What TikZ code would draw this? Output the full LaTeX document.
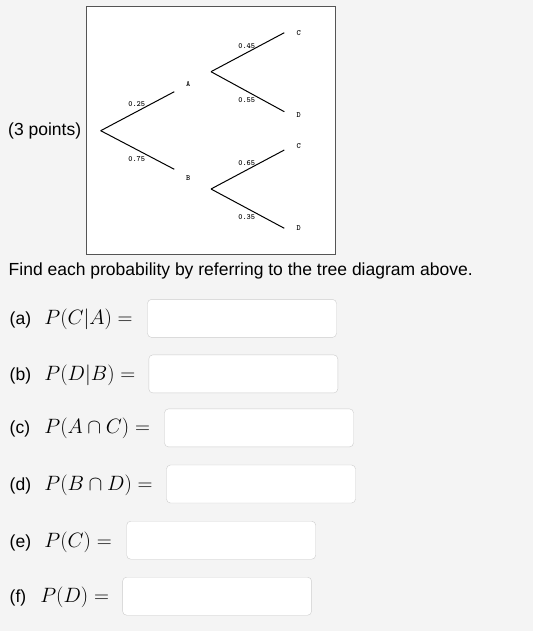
\documentclass[tikz,border=0pt]{standalone}
\usepackage{amsmath,amssymb}
\usepackage{xcolor}
\usepackage{fontspec}
\setmainfont{Liberation Sans}
\usetikzlibrary{positioning}

\definecolor{pagegray}{HTML}{F4F4F4}
\definecolor{framegray}{HTML}{555555}
\definecolor{boxgray}{HTML}{CCCCCC}

\begin{document}
\begin{tikzpicture}[x=1pt,y=-1pt]
\tikzstyle{prob} = [font=\fontsize{8}{8}\ttfamily\bfseries, inner sep=0pt]
\tikzstyle{event} = [font=\fontsize{8}{8}\ttfamily\bfseries, inner sep=0pt]
\tikzstyle{branch} = [line width=1pt]
\tikzstyle{txt} = [font=\fontsize{17.5}{20}\selectfont, anchor=base west, inner sep=0pt]
\tikzstyle{expr} = [font=\fontsize{22}{24}\selectfont, anchor=base west, inner sep=0pt]
\tikzstyle{ansbox} = [draw=boxgray, fill=white, rounded corners=4pt, anchor=north west, minimum width=189pt, minimum height=38pt]
\fill [pagegray] (0,0) rectangle (533,631);
\useasboundingbox (0,0) rectangle (533,631);
% tree diagram
\draw [framegray, fill=white] (86,6) rectangle (335,254);
\coordinate (r0) at (100.7,130.7);
\coordinate (ea) at (174.3,91.7);
\coordinate (eb) at (174.3,169.3);
\coordinate (ra) at (211,71.7);
\coordinate (rb) at (211,189);
\coordinate (eac) at (284.3,32.7);
\coordinate (ead) at (284.3,111.7);
\coordinate (ebc) at (284.3,150);
\coordinate (ebd) at (284.3,228.3);
\draw [branch] (r0) -- (ea);
\draw [branch] (r0) -- (eb);
\draw [branch] (ra) -- (eac);
\draw [branch] (ra) -- (ead);
\draw [branch] (rb) -- (ebc);
\draw [branch] (rb) -- (ebd);
\node [event] (na) at (188.3,84.3) {A};
\node [event] (nb) at (188.3,177.7) {B};
\node [event] (nac) at (298.7,33.3) {C};
\node [event] (nad) at (298.7,115.3) {D};
\node [event] (nbc) at (298.7,146.3) {C};
\node [event] (nbd) at (298.7,228.3) {D};
\node [prob] (p25) at (136.7,104) {0.25};
\node [prob] (p75) at (136.7,158.7) {0.75};
\node [prob] (p45) at (246.7,45.7) {0.45};
\node [prob] (p55) at (246.7,100.3) {0.55};
\node [prob] (p65) at (246.7,162.7) {0.65};
\node [prob] (p35) at (246.7,217) {0.35};
% texts
\node [txt] (pts) at (8,136) {(3 points)};
\node [txt] (find) at (8.5,275.4) {Find each probability by referring to the tree diagram above.};
% questions
\node [txt] (la) at (9.5,324.7) {(a)};
\node [expr] (qa) at (44.2,324.7) {$P(C|A)=$};
\node [ansbox] (ba) at (147.3,299.2) {};
\node [txt] (lb) at (9.5,380.3) {(b)};
\node [expr] (qb) at (44.2,380.3) {$P(D|B)=$};
\node [ansbox] (bb) at (148.6,354.7) {};
\node [txt] (lc) at (9.5,433.5) {(c)};
\node [expr] (qc) at (44.2,433.5) {$P(A\cap C)=$};
\node [ansbox] (bc) at (164.3,408.7) {};
\node [txt] (ld) at (9.5,490.3) {(d)};
\node [expr] (qd) at (44.2,490.3) {$P(B\cap D)=$};
\node [ansbox] (bd) at (166.3,464.8) {};
\node [txt] (le) at (9.5,547) {(e)};
\node [expr] (qe) at (44.2,547) {$P(C)=$};
\node [ansbox] (be) at (126.5,521) {};
\node [txt] (lf) at (9.5,602.6) {(f)};
\node [expr] (qf) at (40.1,602.6) {$P(D)=$};
\node [ansbox] (bf) at (122.4,577) {};
\end{tikzpicture}
\end{document}
